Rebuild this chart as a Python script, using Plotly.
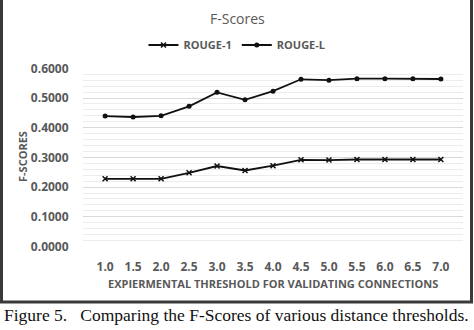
import plotly.graph_objects as go

# Distance thresholds (x categories) and F-score series
thresholds = ["1.0", "1.5", "2.0", "2.5", "3.0", "3.5", "4.0", "4.5", "5.0", "5.5", "6.0", "6.5", "7.0"]
rouge_1 = [0.228, 0.228, 0.228, 0.248, 0.271, 0.256, 0.272, 0.292, 0.291, 0.293, 0.293, 0.293, 0.293]
rouge_l = [0.439, 0.436, 0.440, 0.472, 0.519, 0.494, 0.523, 0.563, 0.560, 0.565, 0.565, 0.565, 0.564]
y_ticks = [0.0, 0.1, 0.2, 0.3, 0.4, 0.5, 0.6]

W, H = 474, 330
GREY = "#595959"
FONT = "Open Sans"


def px_x(p):
    return p / W


def px_y(p):
    return 1 - p / H


def label(text, x, y, size, weight="normal", angle=0, family=FONT, color=GREY):
    return dict(text=text, x=px_x(x), y=px_y(y), xref="paper", yref="paper",
                xanchor="center", yanchor="middle", showarrow=False, textangle=angle,
                font=dict(family=family, size=size, color=color, weight=weight))


fig = go.Figure()
fig.add_trace(go.Scatter(
    x=thresholds, y=rouge_1, name="ROUGE-1", mode="lines+markers",
    line=dict(color="#111111", width=1.8),
    marker=dict(symbol="x-thin", size=5, line=dict(color="#111111", width=1.5)),
))
fig.add_trace(go.Scatter(
    x=thresholds, y=rouge_l, name="ROUGE-L", mode="lines+markers",
    line=dict(color="#111111", width=1.8),
    marker=dict(symbol="circle", size=5, color="#111111"),
))

fig.update_layout(
    width=W, height=H,
    margin=dict(l=0, r=0, t=0, b=0, autoexpand=False),
    paper_bgcolor="white", plot_bgcolor="white",
    font=dict(family=FONT, color=GREY),
    showlegend=True,
    legend=dict(
        orientation="h", x=0.5, xanchor="center", y=px_y(45), yanchor="middle",
        font=dict(family=FONT, size=11, color=GREY, weight="bold"),
        itemwidth=30, bgcolor="rgba(0,0,0,0)",
    ),
    xaxis=dict(
        domain=[px_x(83), px_x(463)], type="category",
        showgrid=False, showline=False, zeroline=False,
        ticks="outside", ticklen=9, tickcolor="rgba(0,0,0,0)",
        tickfont=dict(family=FONT, size=12, color=GREY, weight="bold"),
    ),
    yaxis=dict(
        domain=[px_y(246.5), px_y(68.3)], range=[0, 0.6],
        tickvals=y_ticks, tickformat=".4f",
        showgrid=True, gridcolor="#d9d9d9", gridwidth=1,
        minor=dict(dtick=0.02, showgrid=True, gridcolor="#ececec", gridwidth=1),
        showline=False, zeroline=False,
        ticks="outside", ticklen=11, tickcolor="rgba(0,0,0,0)",
        tickfont=dict(family=FONT, size=12, color=GREY, weight="bold"),
    ),
    annotations=[
        label("F-Scores", 237, 18, 14),
        label("EXPIERMENTAL THRESHOLD FOR VALIDATING CONNECTIONS", 273, 283, 11, "bold"),
        label("F-SCORES", 22, 157, 11, "bold", angle=-90),
        label("Figure 5.\u00a0\u00a0\u00a0Comparing the F-Scores of various distance thresholds.",
              236, 315, 17.5, family="Liberation Serif", color="#111111"),
    ],
    shapes=[
        dict(type="rect", xref="paper", yref="paper",
             x0=px_x(1.5), x1=px_x(471.5), y0=px_y(302), y1=px_y(-5),
             line=dict(color="#3a3a3a", width=3), fillcolor="rgba(0,0,0,0)", layer="above"),
    ],
)

fig.write_html("out.html")
